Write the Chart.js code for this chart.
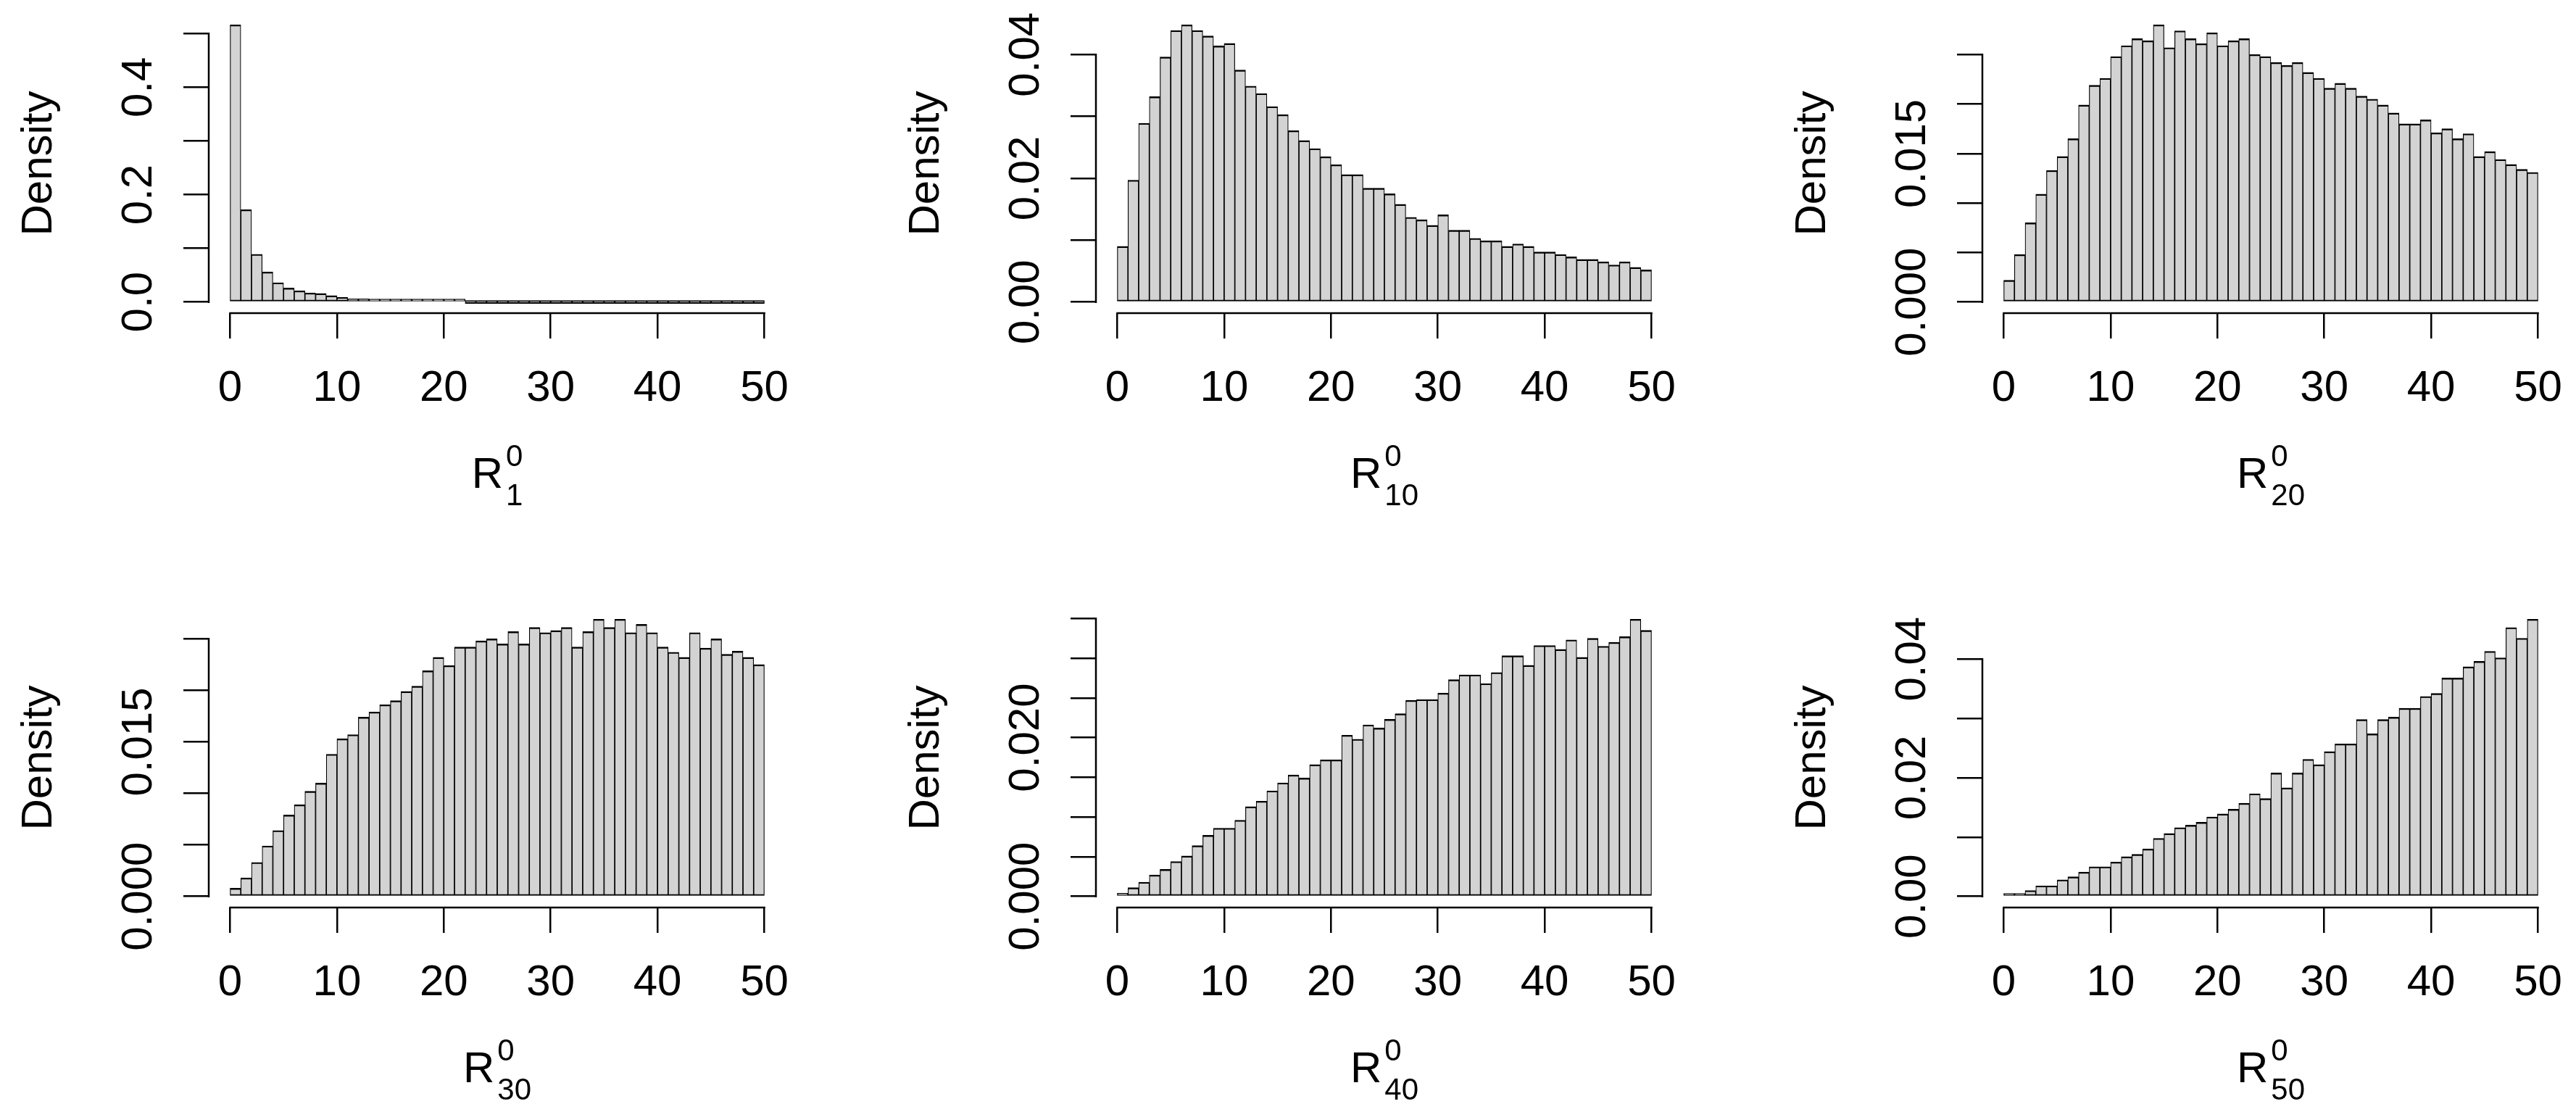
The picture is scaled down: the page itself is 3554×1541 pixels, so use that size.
<!DOCTYPE html>
<html>
<head>
<meta charset="utf-8">
<title>R0 histograms</title>
<script src="https://cdn.jsdelivr.net/npm/chart.js@4.4.1/dist/chart.umd.min.js"></script>
<style>
  html, body { margin: 0; padding: 0; background: #fff; overflow: hidden; }
  .cell { position: absolute; width: 1088px; height: 720px; }
</style>
</head>
<body>
<div class="cell" style="left:8px;top:0px"><canvas id="p1"></canvas></div>
<div class="cell" style="left:1232px;top:0px"><canvas id="p10"></canvas></div>
<div class="cell" style="left:2455px;top:0px"><canvas id="p20"></canvas></div>
<div class="cell" style="left:8px;top:820px"><canvas id="p30"></canvas></div>
<div class="cell" style="left:1232px;top:820px"><canvas id="p40"></canvas></div>
<div class="cell" style="left:2455px;top:820px"><canvas id="p50"></canvas></div>
<script>
// bin breaks of every histogram (width 1, from 0 to 50)
var breaks = [0, 1, 2, 3, 4, 5, 6, 7, 8, 9, 10, 11, 12, 13, 14, 15, 16, 17, 18, 19, 20,
  21, 22, 23, 24, 25, 26, 27, 28, 29, 30, 31, 32, 33, 34, 35, 36, 37, 38, 39, 40,
  41, 42, 43, 44, 45, 46, 47, 48, 49, 50];

// x axis ticks
var xTicks = [0, 10, 20, 30, 40, 50];
var xTickLabels = ["0", "10", "20", "30", "40", "50"];

// densities, one value per bin
var densR1 = [0.516, 0.172, 0.089, 0.056, 0.036, 0.026, 0.021, 0.017, 0.016, 0.012,
  0.009, 0.006, 0.006, 0.005, 0.005, 0.005, 0.005, 0.005, 0.004, 0.004,
  0.004, 0.004, 0, 0, 0, 0, 0, 0, 0, 0,
  0, 0, 0, 0, 0, 0, 0, 0, 0, 0,
  0, 0, 0, 0, 0, 0, 0, 0, 0, 0];
var densR10 = [0.0090, 0.0197, 0.0289, 0.0332, 0.0396, 0.0439, 0.0448, 0.0439, 0.0430, 0.0414,
  0.0418, 0.0375, 0.0349, 0.0337, 0.0316, 0.0303, 0.0277, 0.0261, 0.0248, 0.0235,
  0.0222, 0.0206, 0.0206, 0.0184, 0.0184, 0.0175, 0.0158, 0.0137, 0.0133, 0.0124,
  0.0141, 0.0116, 0.0116, 0.0103, 0.0099, 0.0099, 0.0090, 0.0094, 0.0090, 0.0081,
  0.0081, 0.0077, 0.0073, 0.0069, 0.0069, 0.0065, 0.0060, 0.0065, 0.0056, 0.0052];
var densR20 = [0.0022, 0.0048, 0.0080, 0.0109, 0.0133, 0.0147, 0.0165, 0.0199, 0.0219, 0.0226,
  0.0248, 0.0259, 0.0266, 0.0264, 0.0280, 0.0257, 0.0274, 0.0266, 0.0261, 0.0272,
  0.0259, 0.0264, 0.0266, 0.0250, 0.0248, 0.0242, 0.0239, 0.0242, 0.0232, 0.0226,
  0.0216, 0.0221, 0.0216, 0.0208, 0.0205, 0.0199, 0.0191, 0.0180, 0.0180, 0.0184,
  0.0171, 0.0175, 0.0165, 0.0170, 0.0147, 0.0152, 0.0144, 0.0139, 0.0134, 0.0131];
var densR30 = [0.0008, 0.0018, 0.0033, 0.0049, 0.0064, 0.0079, 0.0089, 0.0102, 0.0110, 0.0138,
  0.0153, 0.0157, 0.0174, 0.0179, 0.0186, 0.0190, 0.0199, 0.0204, 0.0219, 0.0232,
  0.0224, 0.0242, 0.0242, 0.0248, 0.0250, 0.0245, 0.0257, 0.0245, 0.0261, 0.0256,
  0.0258, 0.0261, 0.0242, 0.0257, 0.0269, 0.0261, 0.0269, 0.0256, 0.0264, 0.0256,
  0.0242, 0.0237, 0.0232, 0.0256, 0.0241, 0.0250, 0.0235, 0.0238, 0.0232, 0.0225];
var densR40 = [0.0004, 0.0011, 0.0018, 0.0027, 0.0034, 0.0044, 0.0051, 0.0064, 0.0077, 0.0086,
  0.0086, 0.0096, 0.0113, 0.0120, 0.0133, 0.0143, 0.0153, 0.0149, 0.0166, 0.0172,
  0.0172, 0.0203, 0.0198, 0.0216, 0.0212, 0.0223, 0.0230, 0.0247, 0.0248, 0.0248,
  0.0256, 0.0273, 0.0279, 0.0279, 0.0268, 0.0282, 0.0303, 0.0303, 0.0291, 0.0316,
  0.0316, 0.0311, 0.0323, 0.0301, 0.0325, 0.0315, 0.0320, 0.0327, 0.0349, 0.0335];
var densR50 = [0.0005, 0.0005, 0.0010, 0.0018, 0.0018, 0.0028, 0.0033, 0.0041, 0.0050, 0.0050,
  0.0058, 0.0067, 0.0071, 0.0080, 0.0098, 0.0106, 0.0116, 0.0120, 0.0125, 0.0134,
  0.0139, 0.0147, 0.0157, 0.0173, 0.0165, 0.0208, 0.0183, 0.0208, 0.0231, 0.0222,
  0.0244, 0.0257, 0.0257, 0.0298, 0.0274, 0.0298, 0.0302, 0.0317, 0.0317, 0.0337,
  0.0342, 0.0368, 0.0368, 0.0387, 0.0396, 0.0413, 0.0402, 0.0453, 0.0435, 0.0467];

// y axis ticks and their labels (R leaves out the ones that would overlap)
var yTicksR1 = [0, 0.1, 0.2, 0.3, 0.4, 0.5];
var yLabelsR1 = ["0.0", "", "0.2", "", "0.4", ""];
var yTicksR10 = [0, 0.01, 0.02, 0.03, 0.04];
var yLabelsR10 = ["0.00", "", "0.02", "", "0.04"];
var yTicksR20 = [0, 0.005, 0.010, 0.015, 0.020, 0.025];
var yLabelsR20 = ["0.000", "", "", "0.015", "", ""];
var yTicksR30 = [0, 0.005, 0.010, 0.015, 0.020, 0.025];
var yLabelsR30 = ["0.000", "", "", "0.015", "", ""];
var yTicksR40 = [0, 0.005, 0.010, 0.015, 0.020, 0.025, 0.030, 0.035];
var yLabelsR40 = ["0.000", "", "", "", "0.020", "", "", ""];
var yTicksR50 = [0, 0.01, 0.02, 0.03, 0.04];
var yLabelsR50 = ["0.00", "", "0.02", "", "0.04"];

var FONT = '"Liberation Sans", Arial, sans-serif';
var tickFont = { family: FONT, size: 60, lineHeight: 1.2 };

// R draws its axis lines only from the first to the last tick,
// and writes the x label as R with a stacked superscript 0 and subscript
var rAxes = {
  id: "rAxes",
  afterDraw: function (chart, args, opts) {
    var ctx = chart.ctx;
    var xs = chart.scales.x;
    var ys = chart.scales.y;
    var area = chart.chartArea;
    ctx.save();
    ctx.strokeStyle = "#000";
    ctx.lineWidth = 2.5;
    ctx.lineCap = "square";
    ctx.beginPath();
    ctx.moveTo(xs.getPixelForValue(xs.ticks[0].value), area.bottom);
    ctx.lineTo(xs.getPixelForValue(xs.ticks[xs.ticks.length - 1].value), area.bottom);
    ctx.moveTo(area.left, ys.getPixelForValue(ys.ticks[0].value));
    ctx.lineTo(area.left, ys.getPixelForValue(ys.ticks[ys.ticks.length - 1].value));
    ctx.stroke();

    var big = "60px " + FONT;
    var small = "42px " + FONT;
    ctx.font = big;
    var wR = ctx.measureText("R").width;
    ctx.font = small;
    var wS = Math.max(ctx.measureText("0").width, ctx.measureText(opts.sub).width);
    var gap = 4;
    var x0 = (area.left + area.right) / 2 - (wR + gap + wS) / 2;
    var yb = area.bottom + 241;
    ctx.fillStyle = "#000";
    ctx.textAlign = "left";
    ctx.textBaseline = "alphabetic";
    ctx.font = big;
    ctx.fillText("R", x0, yb);
    ctx.font = small;
    ctx.fillText("0", x0 + wR + gap, yb - 30);
    ctx.fillText(opts.sub, x0 + wR + gap, yb + 24);
    ctx.restore();
  }
};

function textWidth(labels) {
  var c = document.createElement("canvas").getContext("2d");
  c.font = "60px " + FONT;
  var w = 0;
  for (var i = 0; i < labels.length; i++) {
    w = Math.max(w, c.measureText(labels[i]).width);
  }
  return w;
}

function makePanel(id, dens, yTicks, yLabels, sub) {
  var pts = [];
  for (var i = 0; i < dens.length; i++) {
    pts.push({ x: (breaks[i] + breaks[i + 1]) / 2, y: dens[i] });
  }
  var ymax = Math.max.apply(null, dens);
  var xlo = breaks[0], xhi = breaks[breaks.length - 1];
  // center of the rotated y labels sits 96px left of the axis line
  var yPad = 96 - 35 - textWidth(yLabels) / 2;

  return new Chart(document.getElementById(id), {
    type: "bar",
    data: {
      datasets: [{
        data: pts,
        backgroundColor: "#d3d3d3",
        borderColor: "#000",
        borderWidth: { top: 2.4, left: 1.2, right: 1.2, bottom: 2 },
        borderSkipped: false,
        barPercentage: 1,
        categoryPercentage: 1,
        minBarLength: 4
      }]
    },
    options: {
      responsive: true,
      maintainAspectRatio: false,
      animation: false,
      devicePixelRatio: 1,
      layout: { autoPadding: false, padding: { top: 19, right: 12, left: 0, bottom: 0 } },
      plugins: {
        legend: { display: false },
        tooltip: { enabled: false },
        rAxes: { sub: sub }
      },
      scales: {
        x: {
          type: "linear",
          offset: false,
          min: xlo - 0.04 * (xhi - xlo),
          max: xhi + 0.04 * (xhi - xlo),
          afterBuildTicks: function (s) {
            s.ticks = xTicks.map(function (v) { return { value: v }; });
          },
          afterFit: function (s) { s.height = 288; s.paddingLeft = 0; s.paddingRight = 0; },
          grid: { offset: false, drawOnChartArea: false, drawTicks: true, tickLength: 35, color: "#000", lineWidth: 2.5 },
          border: { display: false },
          ticks: {
            autoSkip: false, maxRotation: 0, padding: 33, color: "#000", font: tickFont,
            callback: function (v, i) { return xTickLabels[i]; }
          }
        },
        y: {
          type: "linear",
          min: -0.04 * ymax,
          max: 1.04 * ymax,
          afterBuildTicks: function (s) {
            s.ticks = yTicks.map(function (v) { return { value: v }; });
          },
          afterFit: function (s) { s.width = 280; s.paddingTop = 0; s.paddingBottom = 0; },
          grid: { drawOnChartArea: false, drawTicks: true, tickLength: 35, color: "#000", lineWidth: 2.5 },
          border: { display: false },
          ticks: {
            autoSkip: false, minRotation: 90, maxRotation: 90, crossAlign: "center",
            padding: yPad, color: "#000", font: tickFont,
            callback: function (v, i) { return yLabels[i]; }
          },
          title: {
            display: true, text: "Density", color: "#000", font: tickFont,
            padding: { top: 10, bottom: 0 }
          }
        }
      }
    },
    plugins: [rAxes]
  });
}

makePanel("p1", densR1, yTicksR1, yLabelsR1, "1");
makePanel("p10", densR10, yTicksR10, yLabelsR10, "10");
makePanel("p20", densR20, yTicksR20, yLabelsR20, "20");
makePanel("p30", densR30, yTicksR30, yLabelsR30, "30");
makePanel("p40", densR40, yTicksR40, yLabelsR40, "40");
makePanel("p50", densR50, yTicksR50, yLabelsR50, "50");
</script>
</body>
</html>
